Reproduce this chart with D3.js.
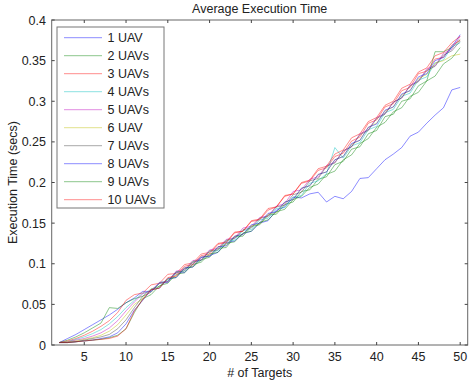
<!DOCTYPE html>
<html>
<head>
<meta charset="utf-8">
<script src="https://cdn.jsdelivr.net/npm/d3@7"></script>
<style>
  body { margin: 0; background: #fff; }
  text { font-family: "Liberation Sans", Arial, sans-serif; fill: #222; }
</style>
</head>
<body>
<div id="chart"></div>
<script>
// # of targets
var targets = d3.range(2, 51);

var seriesNames = ["1 UAV", "2 UAVs", "3 UAVs", "4 UAVs", "5 UAVs", "6 UAV", "7 UAVs", "8 UAVs", "9 UAVs", "10 UAVs"];

var uav1 = [0.003,0.008,0.013,0.019,0.025,0.031,0.037,0.044,0.052,
  0.058,0.066,0.066,0.076,0.077,0.089,0.089,0.100,0.108,0.110,
  0.114,0.126,0.128,0.137,0.140,0.150,0.153,0.166,0.170,0.182,
  0.181,0.186,0.188,0.176,0.183,0.180,0.189,0.205,0.206,0.217,
  0.228,0.235,0.243,0.257,0.262,0.273,0.283,0.292,0.314,0.317];
var uav2 = [0.003,0.006,0.010,0.015,0.021,0.027,0.046,0.045,0.052,
  0.057,0.060,0.069,0.072,0.081,0.083,0.094,0.096,0.105,0.108,
  0.119,0.120,0.133,0.134,0.146,0.148,0.160,0.161,0.173,0.176,
  0.189,0.191,0.204,0.207,0.222,0.226,0.241,0.244,0.260,0.264,
  0.281,0.284,0.300,0.303,0.319,0.325,0.361,0.361,0.366,0.376];
var uav3 = [0.003,0.005,0.008,0.012,0.017,0.023,0.030,0.040,0.055,
  0.062,0.064,0.074,0.076,0.087,0.088,0.099,0.101,0.112,0.114,
  0.125,0.127,0.139,0.140,0.152,0.154,0.166,0.170,0.184,0.186,
  0.199,0.202,0.215,0.218,0.232,0.236,0.251,0.256,0.273,0.277,
  0.293,0.297,0.313,0.317,0.334,0.337,0.352,0.354,0.369,0.375];
var uav4 = [0.003,0.004,0.007,0.010,0.014,0.019,0.026,0.035,0.046,
  0.055,0.064,0.066,0.077,0.079,0.090,0.091,0.102,0.104,0.115,
  0.116,0.128,0.129,0.141,0.142,0.154,0.156,0.168,0.169,0.182,
  0.184,0.199,0.202,0.211,0.243,0.230,0.245,0.249,0.265,0.269,
  0.286,0.290,0.306,0.310,0.326,0.330,0.347,0.351,0.367,0.372];
var uav5 = [0.003,0.004,0.006,0.008,0.011,0.015,0.021,0.030,0.042,
  0.053,0.063,0.067,0.077,0.078,0.091,0.093,0.104,0.105,0.117,
  0.119,0.130,0.132,0.144,0.146,0.157,0.159,0.171,0.174,0.189,
  0.191,0.204,0.207,0.221,0.225,0.239,0.244,0.260,0.265,0.280,
  0.285,0.299,0.304,0.320,0.325,0.340,0.344,0.359,0.364,0.380];
var uav6 = [0.003,0.004,0.005,0.007,0.009,0.012,0.017,0.025,0.037,
  0.050,0.057,0.068,0.070,0.082,0.084,0.095,0.097,0.108,0.110,
  0.121,0.123,0.134,0.136,0.147,0.149,0.161,0.163,0.176,0.179,
  0.193,0.196,0.210,0.213,0.228,0.232,0.247,0.252,0.268,0.273,
  0.288,0.293,0.308,0.313,0.328,0.333,0.347,0.350,0.356,0.358];
var uav7 = [0.003,0.003,0.004,0.006,0.008,0.010,0.013,0.020,0.031,
  0.046,0.060,0.065,0.076,0.078,0.090,0.091,0.103,0.104,0.116,
  0.117,0.129,0.131,0.142,0.144,0.156,0.158,0.170,0.172,0.185,
  0.188,0.202,0.205,0.220,0.224,0.239,0.244,0.259,0.264,0.279,
  0.284,0.299,0.304,0.319,0.324,0.338,0.343,0.357,0.362,0.374];
var uav8 = [0.003,0.003,0.004,0.005,0.006,0.008,0.010,0.015,0.026,
  0.043,0.055,0.068,0.070,0.082,0.083,0.095,0.096,0.108,0.109,
  0.121,0.122,0.134,0.136,0.148,0.150,0.162,0.164,0.176,0.179,
  0.193,0.196,0.210,0.213,0.228,0.232,0.248,0.252,0.268,0.272,
  0.289,0.293,0.309,0.313,0.330,0.334,0.350,0.354,0.367,0.382];
var uav9 = [0.003,0.003,0.004,0.005,0.006,0.007,0.009,0.012,0.020,
  0.040,0.057,0.062,0.073,0.076,0.087,0.089,0.099,0.102,0.112,
  0.114,0.125,0.127,0.138,0.140,0.151,0.154,0.164,0.167,0.179,
  0.183,0.194,0.198,0.210,0.214,0.228,0.234,0.248,0.254,0.268,
  0.274,0.287,0.292,0.306,0.311,0.325,0.331,0.346,0.353,0.366];
var uav10 = [0.003,0.003,0.004,0.005,0.006,0.007,0.008,0.011,0.020,
  0.042,0.056,0.068,0.070,0.083,0.085,0.097,0.099,0.110,0.112,
  0.124,0.126,0.138,0.140,0.153,0.155,0.168,0.170,0.183,0.186,
  0.200,0.203,0.217,0.220,0.235,0.240,0.255,0.260,0.275,0.280,
  0.295,0.300,0.316,0.321,0.336,0.341,0.356,0.360,0.372,0.380];

var allSeries = [uav1, uav2, uav3, uav4, uav5, uav6, uav7, uav8, uav9, uav10];

var xTicks = [5, 10, 15, 20, 25, 30, 35, 40, 45, 50];
var yTicks = [0, 0.05, 0.1, 0.15, 0.2, 0.25, 0.3, 0.35, 0.4];
var yTickLabels = ["0", "0.05", "0.1", "0.15", "0.2", "0.25", "0.3", "0.35", "0.4"];

// matlab default line colours
var colors = ["#0000ff", "#008000", "#ff0000", "#00bfbf", "#bf00bf", "#bfbf00", "#404040", "#0000ff", "#008000", "#ff0000"];

var chartW = 474, chartH = 386;
var padL = 51.7, padR = 467.7, padT = 20, padB = 345;

var svg = d3.select("#chart").append("svg")
    .attr("width", chartW)
    .attr("height", chartH);

var x = d3.scaleLinear().domain([1.1, 50.9]).range([padL, padR]);
var y = d3.scaleLinear().domain([0, 0.4]).range([padB, padT]);

// box
svg.append("rect")
    .attr("x", padL).attr("y", padT)
    .attr("width", padR - padL).attr("height", padB - padT)
    .attr("fill", "white")
    .attr("stroke", "#666")
    .attr("stroke-width", 1);

// lines
var line = d3.line()
    .x(function(d, i) { return x(targets[i]); })
    .y(function(d) { return y(d); });

svg.append("g").attr("id", "lines")
    .selectAll("path")
    .data(allSeries)
    .enter()
    .append("path")
    .attr("d", line)
    .attr("fill", "none")
    .attr("stroke", function(d, i) { return colors[i]; })
    .attr("stroke-opacity", 0.45)
    .attr("stroke-width", 1);

// ticks (inward, all four sides)
var tickLen = 3;
var tg = svg.append("g").attr("stroke", "#444").attr("stroke-width", 1);
xTicks.forEach(function(t) {
    tg.append("line").attr("x1", x(t)).attr("x2", x(t)).attr("y1", padB).attr("y2", padB - tickLen);
    tg.append("line").attr("x1", x(t)).attr("x2", x(t)).attr("y1", padT).attr("y2", padT + tickLen);
});
yTicks.forEach(function(t) {
    tg.append("line").attr("x1", padL).attr("x2", padL + tickLen).attr("y1", y(t)).attr("y2", y(t));
    tg.append("line").attr("x1", padR).attr("x2", padR - tickLen).attr("y1", y(t)).attr("y2", y(t));
});

// tick labels
svg.append("g").selectAll("text")
    .data(xTicks)
    .enter()
    .append("text")
    .attr("x", function(d) { return x(d); })
    .attr("y", 361)
    .style("font-size", "12.5px")
    .style("text-anchor", "middle")
    .text(function(d) { return d; });

svg.append("g").selectAll("text")
    .data(yTicks)
    .enter()
    .append("text")
    .attr("x", 46)
    .attr("y", function(d) { return y(d) + 4.5; })
    .style("font-size", "12.5px")
    .style("text-anchor", "end")
    .text(function(d, i) { return yTickLabels[i]; });

// title and axis labels
svg.append("text")
    .attr("x", (padL + padR) / 2)
    .attr("y", 13)
    .style("font-size", "12.5px")
    .style("text-anchor", "middle")
    .text("Average Execution Time");

svg.append("text")
    .attr("x", (padL + padR) / 2)
    .attr("y", 377)
    .style("font-size", "12.5px")
    .style("text-anchor", "middle")
    .text("# of Targets");

svg.append("text")
    .attr("transform", "translate(17," + ((padT + padB) / 2) + ") rotate(-90)")
    .style("font-size", "12.5px")
    .style("text-anchor", "middle")
    .text("Execution Time (secs)");

// legend
var legend = svg.append("g").attr("id", "legend");
legend.append("rect")
    .attr("x", 57).attr("y", 27)
    .attr("width", 107).attr("height", 181)
    .attr("fill", "white")
    .attr("stroke", "#777")
    .attr("stroke-width", 1);

var rows = legend.selectAll(".row")
    .data(seriesNames)
    .enter()
    .append("g")
    .attr("class", "row")
    .attr("transform", function(d, i) { return "translate(0," + (37.7 + 18 * i) + ")"; });

rows.append("line")
    .attr("x1", 64).attr("x2", 102)
    .attr("y1", 0).attr("y2", 0)
    .attr("stroke", function(d, i) { return colors[i]; })
    .attr("stroke-opacity", 0.45)
    .attr("stroke-width", 1);

rows.append("text")
    .attr("x", 107.5)
    .attr("y", 4.5)
    .style("font-size", "12.5px")
    .text(function(d) { return d; });
</script>
</body>
</html>
